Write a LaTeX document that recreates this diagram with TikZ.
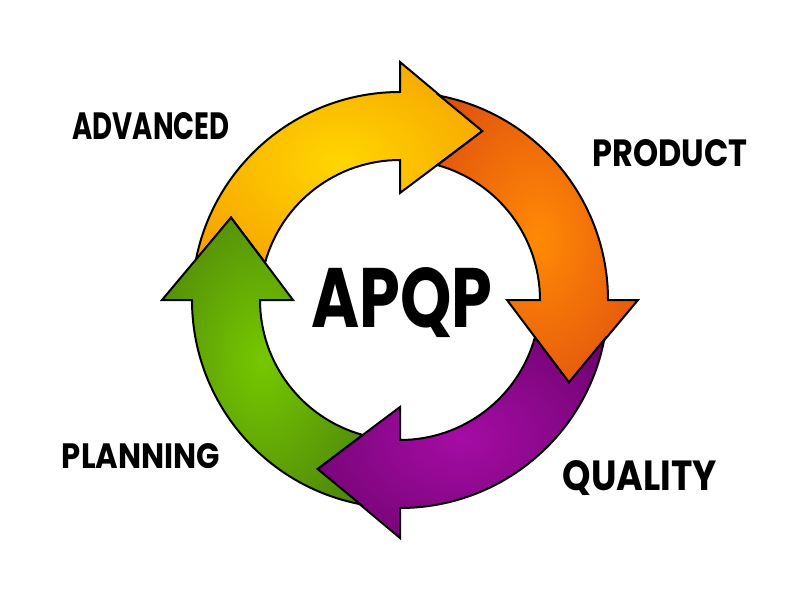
\documentclass[tikz,border=0pt]{standalone}
\usepackage{fontspec}
\setmainfont{Poppins}
\usepackage{graphicx}
\definecolor{yC}{RGB}{255,214,0}
\definecolor{yE}{RGB}{243,140,0}
\definecolor{oC}{RGB}{255,138,5}
\definecolor{oE}{RGB}{212,58,18}
\definecolor{pC}{RGB}{165,12,165}
\definecolor{pE}{RGB}{92,0,92}
\definecolor{gC}{RGB}{118,200,0}
\definecolor{gE}{RGB}{62,108,16}
\pgfdeclareradialshading{yshade}{\pgfpointorigin}{color(0bp)=(yC); color(45bp)=(yE); color(50bp)=(yE)}
\pgfdeclareradialshading{oshade}{\pgfpointorigin}{color(0bp)=(oC); color(45bp)=(oE); color(50bp)=(oE)}
\pgfdeclareradialshading{pshade}{\pgfpointorigin}{color(0bp)=(pC); color(45bp)=(pE); color(50bp)=(pE)}
\pgfdeclareradialshading{gshade}{\pgfpointorigin}{color(0bp)=(gC); color(45bp)=(gE); color(50bp)=(gE)}
\begin{document}
\begin{tikzpicture}[x=1pt,y=1pt,
  arr/.style={draw=black, line width=2pt, line join=miter},
  arrowshape/.style 2 args={insert path={(#2-11:208) arc[start angle=#2-11, end angle=#1, radius=208]
     -- (#1:238) -- (#1-26:188) -- (#1:107) -- (#1:140)
     arc[start angle=#1, end angle=#2-15.5, radius=140] -- (#2-26:188) -- cycle}},
  lbl/.style={inner sep=0pt, text=black, anchor=base}]
\useasboundingbox (-400,-305) rectangle (400,300);
\fill[white] (-400,-305) rectangle (400,300);
\path[arr, shading=yshade, arrowshape={90}{180}];
\path[arr, shading=oshade, arrowshape={0}{90}];
\path[arr, shading=pshade, arrowshape={-90}{0}];
\path[arr, shading=gshade, arrowshape={180}{270}];
\node[lbl] (apqp) at (2,-28) {\resizebox{181pt}{60pt}{\bfseries APQP}};
\node[lbl] (adv) at (-249,160) {\resizebox{157pt}{27pt}{\bfseries ADVANCED}};
\node[lbl] (prod) at (270,133) {\resizebox{155pt}{27pt}{\bfseries PRODUCT}};
\node[lbl] (plan) at (-259,-168) {\resizebox{158pt}{25pt}{\bfseries PLANNING}};
\node[lbl] (qual) at (240,-190) {\resizebox{154pt}{30pt}{\bfseries QUALITY}};
\end{tikzpicture}
\end{document}
